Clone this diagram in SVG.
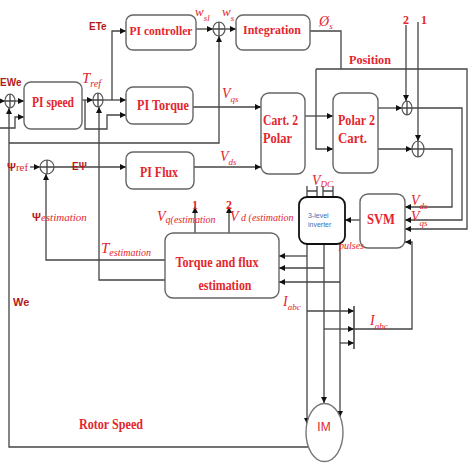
<svg xmlns="http://www.w3.org/2000/svg" width="474" height="474" viewBox="0 0 474 474">
<defs>
<marker id="ah" viewBox="0 0 10 10" refX="10" refY="5" markerWidth="6" markerHeight="6" markerUnits="userSpaceOnUse" orient="auto">
<path d="M0,0 L10,5 L0,10 z" fill="#111"/>
</marker>
<style>
.box{fill:#fff;stroke:#666;stroke-width:1.4}
.inv{fill:#fff;stroke:#111;stroke-width:1.8}
.sum{fill:#fff;stroke:#555;stroke-width:1.2}
.ln{fill:none;stroke:#444;stroke-width:1.3}
.ar{fill:none;stroke:#444;stroke-width:1.3;marker-end:url(#ah)}
.t{font-family:"Liberation Serif",serif;fill:#e3262e}
.b{font-weight:bold}
.i{font-style:italic}
.dk{fill:#b31a1a;font-family:"Liberation Sans",sans-serif;font-weight:bold}
.bl{font-family:"Liberation Sans",sans-serif;fill:#3a6fb5;font-size:7px}
</style>
</defs>
<rect width="474" height="474" fill="#fff"/>
<g id="connectors">
<path class="ar" d="M0,101 H5"/>
<path class="ar" d="M15,101 H24"/>
<path class="ar" d="M0,128 H15 V117 H24"/>
<path class="ar" d="M309,447 H9 V108"/>
<path class="ar" d="M9,143 H219 V36"/>
<path class="ar" d="M82,100 H93"/>
<path class="ar" d="M85,100 V129 H107 V115 H126"/>
<path class="ar" d="M103,100 H126"/>
<path class="ar" d="M112,100 V31 H126"/>
<path class="ar" d="M165,280 H99 V107"/>
<path class="ar" d="M165,260 H46 V174"/>
<path class="ar" d="M30,167 H40"/>
<path class="ar" d="M54,167 H126"/>
<path class="ar" d="M196,29 H213"/>
<path class="ar" d="M225,29 H236"/>
<path class="ln" d="M310,31 H341 V69"/>
<path class="ar" d="M316,69 H467 V229 H405"/>
<path class="ar" d="M316,69 V149 H333"/>
<path class="ar" d="M193,107 H261"/>
<path class="ar" d="M194,167 H261"/>
<path class="ar" d="M305,116 H333"/>
<path class="ar" d="M378,108 H402"/>
<path class="ar" d="M378,149 H412"/>
<path class="ar" d="M406,25 V101"/>
<path class="ar" d="M418,22 V141"/>
<path class="ar" d="M412,108 H462 V220 H405"/>
<path class="ar" d="M424,149 H452 V207 H405"/>
<path class="ar" d="M360,220 H345"/>
<path class="ar" d="M354,329 H412 V242 H405"/>
<path class="ar" d="M307,244 V424"/>
<path class="ar" d="M324,244 V403"/>
<path class="ar" d="M340,244 V417"/>
<path class="ar" d="M307,256 H279"/>
<path class="ar" d="M324,268 H279"/>
<path class="ar" d="M340,282 H279"/>
<path class="ar" d="M307,311 H354"/>
<path class="ar" d="M324,329 H354"/>
<path class="ar" d="M340,343 H354"/>
<path class="ln" d="M354,306 V349" style="stroke-width:1.6"/>
<path class="ar" d="M195,233 V207"/>
<path class="ar" d="M229,233 V207"/>
<path class="ln" d="M307,186 V197 M317,186 V197 M307,191 H317 M323,186 V197 M333,186 V197 M323,191 H333"/>
</g>
<g id="sum1"><ellipse class="sum" cx="10" cy="101" rx="5" ry="7"/><path class="ln" d="M5,101 H15 M10,94 V108"/></g>
<g id="sum2"><ellipse class="sum" cx="98" cy="100" rx="5" ry="7"/><path class="ln" d="M93,100 H103 M98,93 V107"/></g>
<g id="sum3"><ellipse class="sum" cx="47" cy="167" rx="7" ry="7"/><path class="ln" d="M40,167 H54 M47,160 V174"/></g>
<g id="sum4"><ellipse class="sum" cx="219" cy="29" rx="6" ry="7"/><path class="ln" d="M213,29 H225 M219,22 V36"/></g>
<g id="sum5"><ellipse class="sum" cx="407" cy="108" rx="5" ry="7"/><path class="ln" d="M402,108 H412 M407,101 V115"/></g>
<g id="sum6"><ellipse class="sum" cx="418" cy="149" rx="6" ry="8"/><path class="ln" d="M412,149 H424 M418,141 V157"/></g>
<g id="pi-controller"><rect class="box" x="126" y="15" width="70" height="35" rx="7"/><text class="t b" x="161" y="35" font-size="13" text-anchor="middle" textLength="63" lengthAdjust="spacingAndGlyphs">PI controller</text></g>
<g id="integration"><rect class="box" x="236" y="15" width="74" height="35" rx="7"/><text class="t b" x="272" y="34" font-size="13" text-anchor="middle" textLength="58" lengthAdjust="spacingAndGlyphs">Integration</text></g>
<g id="pi-speed"><rect class="box" x="24" y="82" width="58" height="47" rx="7"/><text class="t b" x="53" y="107" font-size="15" text-anchor="middle" textLength="42" lengthAdjust="spacingAndGlyphs">PI speed</text></g>
<g id="pi-torque"><rect class="box" x="126" y="87" width="67" height="37" rx="7"/><text class="t b" x="163" y="110" font-size="15" text-anchor="middle" textLength="52" lengthAdjust="spacingAndGlyphs">PI Torque</text></g>
<g id="pi-flux"><rect class="box" x="126" y="152" width="68" height="37" rx="7"/><text class="t b" x="159" y="177" font-size="15" text-anchor="middle" textLength="38" lengthAdjust="spacingAndGlyphs">PI Flux</text></g>
<g id="cart2polar"><rect class="box" x="261" y="93" width="44" height="81" rx="8"/><text class="t b" x="263" y="125" font-size="14" textLength="35" lengthAdjust="spacingAndGlyphs">Cart. 2</text><text class="t b" x="263" y="143" font-size="14" textLength="29" lengthAdjust="spacingAndGlyphs">Polar</text></g>
<g id="polar2cart"><rect class="box" x="333" y="93" width="45" height="80" rx="8"/><text class="t b" x="338" y="125" font-size="14" textLength="37" lengthAdjust="spacingAndGlyphs">Polar 2</text><text class="t b" x="338" y="143" font-size="14" textLength="29" lengthAdjust="spacingAndGlyphs">Cart.</text></g>
<g id="svm"><rect class="box" x="360" y="194" width="45" height="54" rx="8"/><text class="t b" x="381" y="224" font-size="15" text-anchor="middle" textLength="28" lengthAdjust="spacingAndGlyphs">SVM</text></g>
<g id="inverter"><rect class="inv" x="299" y="197" width="46" height="47" rx="8"/><text class="bl" x="308" y="218">3-level</text><text class="bl" x="308" y="227">inverter</text></g>
<g id="estimation"><rect class="box" x="165" y="233" width="114" height="65" rx="8"/><text class="t b" x="217" y="267" font-size="14" text-anchor="middle" textLength="83" lengthAdjust="spacingAndGlyphs">Torque and flux</text><text class="t b" x="225" y="290" font-size="14" text-anchor="middle" textLength="53" lengthAdjust="spacingAndGlyphs">estimation</text></g>
<g id="im"><ellipse cx="324.5" cy="432.5" rx="18.5" ry="29" fill="#fff" stroke="#777" stroke-width="1.4"/><text x="324" y="431" font-family="Liberation Sans,sans-serif" font-size="12" fill="#e3262e" text-anchor="middle">IM</text></g>
<g id="labels">
<text class="dk" x="0" y="86" font-size="10">EWe</text>
<text class="dk" x="89" y="30" font-size="10">ETe</text>
<text class="dk" x="13" y="306" font-size="11">We</text>
<text x="7" y="171" font-size="11"><tspan class="dk">Ψ</tspan><tspan class="t">ref</tspan></text>
<text class="dk" x="72" y="170" font-size="10">ΕΨ</text>
<text x="32" y="221" font-size="11"><tspan class="dk">Ψ</tspan><tspan class="t i">estimation</tspan></text>
<text class="t i" x="101" y="253" font-size="15">T<tspan font-size="10" dy="3">estimation</tspan></text>
<text class="t i" x="82" y="83" font-size="15">T<tspan font-size="10" dy="4">ref</tspan></text>
<text class="t i" x="195" y="16" font-size="13">w<tspan font-size="9" dy="5">sl</tspan></text>
<text class="t i" x="222" y="16" font-size="13">w<tspan font-size="9" dy="5">s</tspan></text>
<text class="t i" x="319" y="26" font-size="14">Ø<tspan font-size="9" dy="3">s</tspan></text>
<text class="t b" x="349" y="64" font-size="13" textLength="42" lengthAdjust="spacingAndGlyphs">Position</text>
<text class="t i" x="222" y="98" font-size="14">V<tspan font-size="9" dy="4">qs</tspan></text>
<text class="t i" x="220" y="161" font-size="14">V<tspan font-size="9" dy="4">ds</tspan></text>
<text class="t i" x="312" y="185" font-size="14">V<tspan font-size="9" dy="2">DC</tspan></text>
<text class="t i" x="411" y="205" font-size="14">V<tspan font-size="9" dy="4">ds</tspan></text>
<text class="t i" x="411" y="221" font-size="14">V<tspan font-size="9" dy="5">qs</tspan></text>
<text class="t i" x="339" y="249" font-size="10">pulses</text>
<text class="t i" x="283" y="306" font-size="14">I<tspan font-size="9" dy="4">abc</tspan></text>
<text class="t i" x="370" y="325" font-size="14">I<tspan font-size="9" dy="4">abc</tspan></text>
<text class="t i" x="157" y="221" font-size="14">V<tspan font-size="10" dy="2">q(estimation</tspan></text>
<text class="t i" x="230" y="221" font-size="14">V<tspan font-size="10" dy="0"> d (estimation</tspan></text>
<text class="t b" x="195" y="209" font-size="12" text-anchor="middle">1</text>
<text class="t b" x="229" y="209" font-size="12" text-anchor="middle">2</text>
<text class="t b" x="406" y="24" font-size="12" text-anchor="middle">2</text>
<text class="t b" x="424" y="24" font-size="12" text-anchor="middle">1</text>
<text class="t b" x="79" y="429" font-size="14" textLength="64" lengthAdjust="spacingAndGlyphs">Rotor Speed</text>
</g>
</svg>
